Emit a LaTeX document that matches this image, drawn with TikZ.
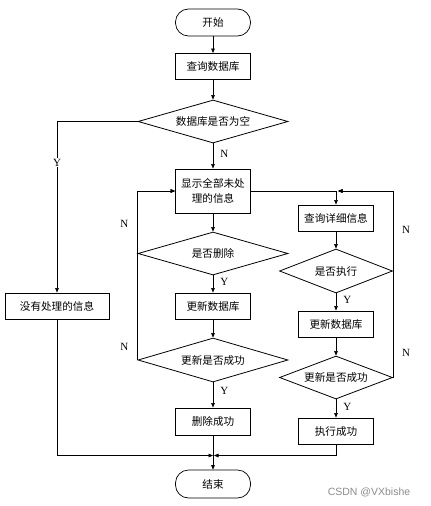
\documentclass[tikz,border=0pt]{standalone}
\usepackage{fontspec}
\setmainfont{Liberation Serif}
\newfontfamily\cjk{Noto Sans CJK SC}
\newfontfamily\wmfont{Liberation Sans}
\usepackage{tikz}
\usetikzlibrary{positioning,arrows.meta,shapes.geometric,calc}

\begin{document}
\begin{tikzpicture}[x=1pt,y=-1pt,
  box/.style={draw, line width=0.9pt, minimum width=75pt, minimum height=26pt, inner sep=0pt,
    align=center, font=\cjk\fontsize{10.6}{15}\selectfont},
  term/.style={box, rounded corners=13pt, line width=0.7pt, minimum height=27pt},
  ask/.style={draw, diamond, aspect=3, inner sep=0pt, line width=0.8pt,
    font=\cjk\fontsize{10.6}{13}\selectfont},
  line/.style={line width=0.6pt},
  arr/.style={line, -{Triangle[length=4.5pt,width=3.6pt]}},
  lbl/.style={font=\fontsize{11}{13}\selectfont, inner sep=1pt}
]
\useasboundingbox (0,0) rectangle (431,506);

% main column
\node[term] (start) at (213,22.5) {开始};
\node[box] (query) at (213,66.5) {查询数据库};
\node[ask, minimum width=150pt, minimum height=43pt] (empty) at (213,121.5) {数据库是否为空};
\node[box, minimum height=44pt] (showall) at (213,191) {显示全部未处\\理的信息};
\node[ask, minimum width=150pt, minimum height=43pt] (isdel) at (213,253.5) {是否删除};
\node[box] (upd1) at (213,306) {更新数据库};
\node[ask, minimum width=150pt, minimum height=44pt] (ok1) at (213,360) {更新是否成功};
\node[box, minimum height=27pt] (delok) at (213,421.5) {删除成功};
\node[term, minimum height=28pt] (end) at (213,484) {结束};

% left branch
\node[box, minimum width=104pt] (none) at (57,306) {没有处理的信息};

% right column
\node[box] (detail) at (336,218) {查询详细信息};
\node[ask, minimum width=113pt, minimum height=44pt] (isexec) at (336,271) {是否执行};
\node[box] (upd2) at (336,324) {更新数据库};
\node[ask, minimum width=113pt, minimum height=43pt] (ok2) at (336,377.5) {更新是否成功};
\node[box] (execok) at (336,431) {执行成功};

\coordinate (rj) at (336,191);
\coordinate (mj) at (213,455.5);

% straight flow
\draw[arr] (start) -- (query);
\draw[arr] (query) -- (empty);
\draw[arr] (empty) -- node[lbl, pos=0.4, right=6pt] {N} (showall);
\draw[arr] (showall) -- (isdel);
\draw[arr] (isdel) -- node[lbl, pos=0.35, right=6pt] {Y} (upd1);
\draw[arr] (upd1) -- (ok1);
\draw[arr] (ok1) -- node[lbl, pos=0.35, right=6pt] {Y} (delok);
\draw[arr] (empty.west) -| node[lbl, pos=0.62, fill=white] {Y} (none.north);

% left loop
\draw[arr] (isdel.west) |- node[lbl, pos=0.24, left=8pt] {N} (showall.west);
\draw[arr] (ok1.west) |- node[lbl, pos=0.04, left=8pt] {N} (showall.west);

% right column flow
\draw[line] (showall.east) -- (rj);
\draw[arr] (rj) -- (detail);
\draw[arr] (detail) -- (isexec);
\draw[arr] (isexec) -- node[lbl, pos=0.4, right=6pt] {Y} (upd2);
\draw[arr] (upd2) -- (ok2);
\draw[arr] (ok2) -- node[lbl, pos=0.4, right=6pt] {Y} (execok);
\draw[arr] (isexec.east) |- node[lbl, pos=0.26, right=8pt] {N} ($(rj)+(2,0)$);
\draw[arr] (ok2.east) |- node[lbl, pos=0.066, right=8pt] {N} ($(rj)+(2,0)$);

% merge to end
\draw[line] (delok) -- (mj);
\draw[arr] (mj) -- (end);
\draw[arr] (none.south) |- (mj);
\draw[arr] (execok.south) |- ($(mj)+(1,0)$);

\node[font=\wmfont\fontsize{10.5}{12}\selectfont, text=black!45] (mark) at (369,492) {CSDN @VXbishe};

\end{tikzpicture}
\end{document}
